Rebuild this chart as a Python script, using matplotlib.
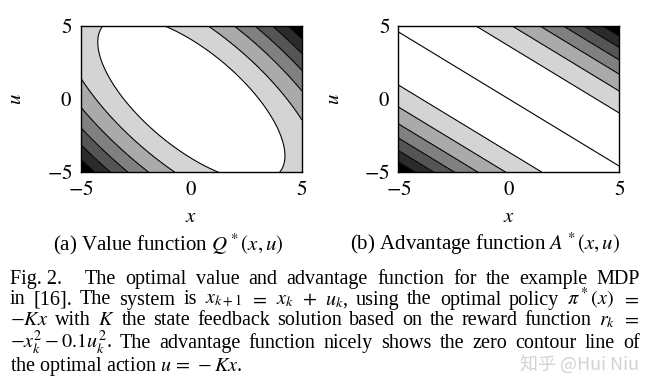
import numpy as np
import matplotlib
matplotlib.use("Agg")
import matplotlib.pyplot as plt

plt.rcParams["font.family"] = ["Liberation Serif", "DejaVu Serif"]
plt.rcParams["mathtext.fontset"] = "stix"

# example MDP: x_{k+1} = x_k + u_k, r_k = -q x^2 - r u^2
state_range = [-5, 5]
q_weight = 1.0
r_weight = 0.1
n_levels = 8
tick_values = [-5, 0, 5]
tick_labels = ["$-5$", "$0$", "$5$"]
subcaptions = [r"(a) Value function $Q^*(x, u)$",
               r"(b) Advantage function $A^*(x, u)$"]

caption_lines = [
    "Fig. 2. The optimal value and advantage function for the example MDP",
    r"in [16]. The system is $x_{k+1}$ $=$ $x_k$ $+$ $u_k$, using the optimal policy $\pi^*(x)$ $=$",
    r"$-Kx$ with $K$ the state feedback solution based on the reward function $r_k$ $=$",
    r"$-x_k^2-0.1u_k^2$. The advantage function nicely shows the zero contour line of",
    r"the optimal action $u\,=\,-Kx$.",
]
watermark = "知乎 @Hui Niu"

# riccati solution for the undiscounted scalar LQR
P = (q_weight + np.sqrt(q_weight**2 + 4 * q_weight * r_weight)) / 2
K = P / (r_weight + P)

xs = np.linspace(state_range[0], state_range[1], 401)
X, U = np.meshgrid(xs, xs)
Q = -q_weight * X**2 - r_weight * U**2 - P * (X + U)**2
V = -P * X**2
A = Q - V

W, H = 670, 386
fig = plt.figure(figsize=(W / 100, H / 100), dpi=100)


def fx(px):
    return px / W


def fy(py):
    return 1 - py / H


band_grays = [str(g) for g in np.linspace(0, 1, n_levels - 1)]

ax_a = fig.add_axes([fx(80.7), fy(172.3), fx(221.3), 146.6 / H])
ax_b = fig.add_axes([fx(398.3), fy(172.3), fx(221.0), 146.6 / H])

lev_q = np.linspace(Q.min(), Q.max(), n_levels)
ax_a.contourf(X, U, Q, levels=lev_q, colors=band_grays)
ax_a.contour(X, U, Q, levels=lev_q[1:-1], colors="k", linewidths=0.8,
             linestyles="solid")

lev_a = np.linspace(A.min(), 0, n_levels)
lev_a[-1] = 1e-9
ax_b.contourf(X, U, A, levels=lev_a, colors=band_grays)
ax_b.contour(X, U, A, levels=lev_a[1:-1], colors="k", linewidths=0.8,
             linestyles="solid")
ax_b.contour(X, U, U + K * X, levels=[0], colors="k", linewidths=0.8,
             linestyles="solid")

for ax in (ax_a, ax_b):
    ax.set_xlim(state_range)
    ax.set_ylim(state_range)
    ax.set_xticks(tick_values, tick_labels)
    ax.set_yticks(tick_values, tick_labels)
    ax.tick_params(length=0, labelsize=15)
    ax.tick_params(axis="x", pad=6)
    ax.tick_params(axis="y", pad=6)
    for s in ax.spines.values():
        s.set_linewidth(1.0)
    ax.set_xlabel("$x$", fontsize=15)
    ax.set_ylabel("$u$", fontsize=15)
    ax.xaxis.set_label_coords(0.5, -0.305)
    ax.xaxis.label.set_va("center")
    ax.yaxis.set_label_coords(-0.288, 0.5)
    ax.yaxis.label.set_va("center")

fig.text(fx(53), fy(250), subcaptions[0], fontsize=15, va="baseline")
fig.text(fx(350), fy(250), subcaptions[1], fontsize=15, va="baseline")

# justified caption
cap_size = 14.5
x0, x1 = 9.5, 640
baselines = [284, 304.5, 325, 348, 371.5]
fig.canvas.draw()
rend = fig.canvas.get_renderer()
for i, (line, yb) in enumerate(zip(caption_lines, baselines)):
    if i == len(caption_lines) - 1:
        fig.text(fx(x0), fy(yb), line, fontsize=cap_size, va="baseline")
        continue
    if i == 0:
        tokens = ["Fig. 2."] + line[len("Fig. 2. "):].split(" ")
    else:
        tokens = line.split(" ")
    texts = [fig.text(0, fy(yb), t, fontsize=cap_size, va="baseline") for t in tokens]
    widths = [t.get_window_extent(rend).width for t in texts]
    weights = [1.0] * (len(tokens) - 1)
    if i == 0:
        weights[0] = 2.6
    gap = (x1 - x0 - sum(widths)) / sum(weights)
    pos = x0
    for j, t in enumerate(texts):
        t.set_x(fx(pos))
        pos += widths[j]
        if j < len(weights):
            pos += gap * weights[j]

fig.text(fx(520), fy(364), watermark, fontsize=13, va="center",
         family=["Noto Sans CJK SC", "DejaVu Sans"], color="#c4c4c4", alpha=0.75)

fig.savefig("out.png", dpi=100)
